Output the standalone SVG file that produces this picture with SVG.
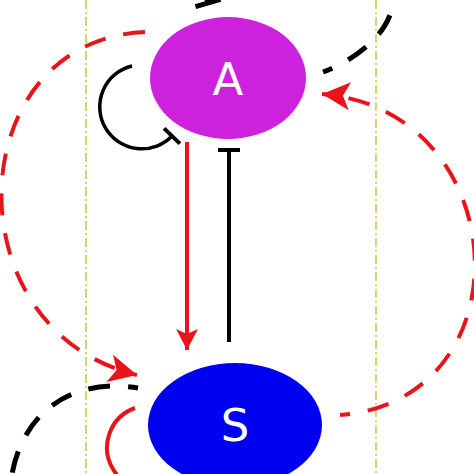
<svg xmlns="http://www.w3.org/2000/svg" width="474" height="474" viewBox="0 0 474 474">
<style>
.guide{stroke:#c8c83c;stroke-width:1.5;stroke-dasharray:9 3 2 3;fill:none}
.rd{stroke:#e8141a;stroke-width:4;fill:none;stroke-dasharray:22 18}
.bd{stroke:#000;stroke-width:5;fill:none;stroke-dasharray:22 18}
.rs{stroke:#e8141a;stroke-width:4;fill:none}
.bs{stroke:#000;stroke-width:3.5;fill:none}
.lbl{font-family:"DejaVu Sans",sans-serif;font-size:45px;fill:#fff;text-anchor:middle}
</style>
<defs>
<marker id="arrL" markerUnits="userSpaceOnUse" orient="auto" markerWidth="40" markerHeight="40" refX="0" refY="0" viewBox="-30 -20 40 40" overflow="visible">
<path d="M0,0 L-28,-14 L-21,0 L-28,14 Z" fill="#e8141a"/>
</marker>
<marker id="arrS" markerUnits="userSpaceOnUse" orient="auto" markerWidth="40" markerHeight="40" refX="0" refY="0" viewBox="-30 -20 40 40" overflow="visible">
<path d="M0,0 L-21,-11 L-16,0 L-21,11 Z" fill="#e8141a"/>
</marker>
<marker id="tee" markerUnits="userSpaceOnUse" orient="auto" markerWidth="40" markerHeight="40" refX="0" refY="0" viewBox="-20 -20 40 40" overflow="visible">
<path d="M0,-11 L0,11" stroke="#000" stroke-width="4"/>
</marker>
<marker id="teeB" markerUnits="userSpaceOnUse" orient="auto" markerWidth="40" markerHeight="40" refX="0" refY="0" viewBox="-20 -20 40 40" overflow="visible">
<path d="M0,-13 L0,13" stroke="#000" stroke-width="5"/>
</marker>
</defs>
<g id="guides">
<line class="guide" x1="86" y1="0" x2="86" y2="474"/>
<line class="guide" x1="376" y1="0" x2="376" y2="474"/>
</g>
<g id="connectors">
<path class="rd" d="M145,32 C-40,40 -50,330 137,375" marker-end="url(#arrL)"/>
<path class="rd" stroke-dashoffset="12" d="M340,415 C530,400 515,110 322,94" marker-end="url(#arrL)"/>
<path class="bd" stroke-dashoffset="12" d="M323,72 C360,58 392,30 393,0 C394,-40 188,-67 208,3" marker-end="url(#teeB)"/>
<path class="bd" stroke-dashoffset="12" d="M138,388 C80,378 25,405 12,474 C0,540 120,560 180,480"/>
<path class="bs" d="M132,66 A42,42 0 1 0 172,136" marker-end="url(#tee)"/>
<path class="rs" d="M135,408 A42,42 0 1 0 178,478"/>
<line class="rs" x1="187" y1="142" x2="187" y2="350" marker-end="url(#arrS)"/>
<line class="bs" style="stroke-width:4" x1="229" y1="342" x2="229" y2="150" marker-end="url(#tee)"/>
</g>
<g id="node-A">
<ellipse cx="228" cy="78" rx="78" ry="61" fill="#cc22dd"/>
<text class="lbl" x="228" y="95">A</text>
</g>
<g id="node-S">
<ellipse cx="235" cy="425" rx="87" ry="62" fill="#0000f0"/>
<text class="lbl" x="235" y="441">S</text>
</g>
</svg>
